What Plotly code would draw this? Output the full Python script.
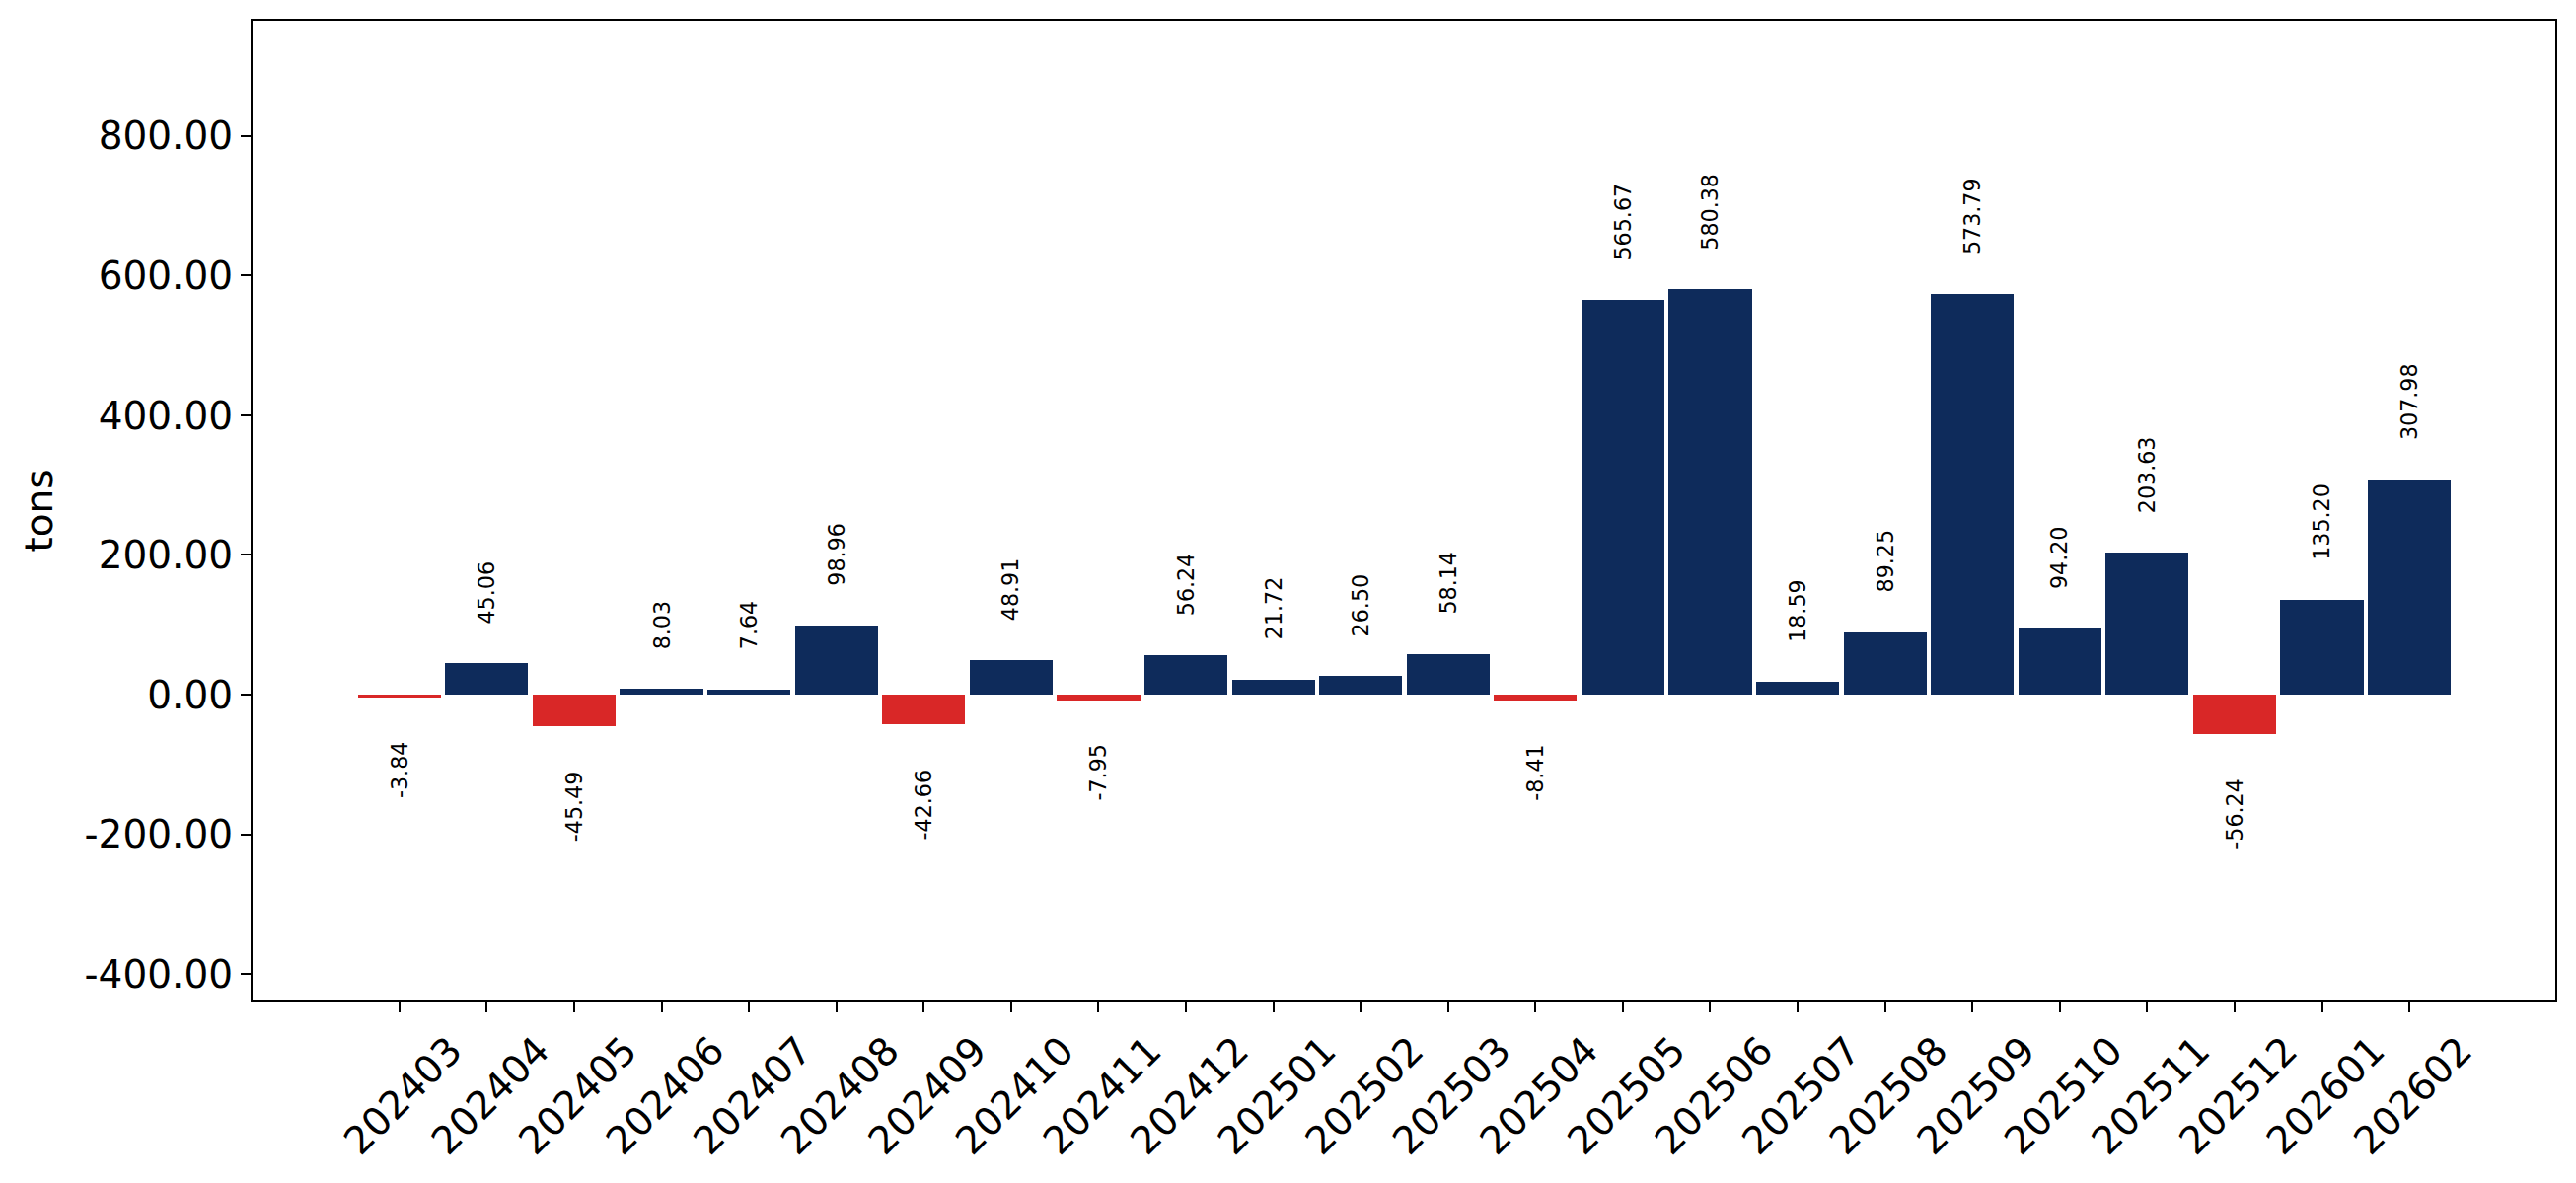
import plotly.graph_objects as go

months = ["202403", "202404", "202405", "202406", "202407", "202408", "202409", "202410",
          "202411", "202412", "202501", "202502", "202503", "202504", "202505", "202506",
          "202507", "202508", "202509", "202510", "202511", "202512", "202601", "202602"]
values = [-3.84, 45.06, -45.49, 8.03, 7.64, 98.96, -42.66, 48.91,
          -7.95, 56.24, 21.72, 26.50, 58.14, -8.41, 565.67, 580.38,
          18.59, 89.25, 573.79, 94.20, 203.63, -56.24, 135.20, 307.98]
y_ticks = [-400, -200, 0, 200, 400, 600, 800]
y_title = "tons"

NAVY = "#0e2b5b"
RED = "#d92727"
FONT = "DejaVu Sans"

colors = [NAVY if v >= 0 else RED for v in values]

fig = go.Figure()
fig.add_trace(go.Bar(
    x=list(range(len(months))), y=values,
    marker=dict(color=colors, line=dict(width=0)),
    width=0.95, showlegend=False, hoverinfo="skip",
))

for i, v in enumerate(values):
    pos = v >= 0
    fig.add_annotation(
        x=i, y=v, xref="x", yref="y",
        text=f"{v:.2f}", showarrow=False, textangle=-90,
        xanchor="center", yanchor="bottom" if pos else "top",
        yshift=38 if pos else -43,
        font=dict(family=FONT, size=22.2, color="black"),
    )

fig.update_layout(
    width=2611, height=1199,
    margin=dict(l=256, r=21, t=21, b=185, pad=0),
    paper_bgcolor="white", plot_bgcolor="white",
    font=dict(family=FONT, color="black"),
    bargap=0,
)
fig.update_xaxes(
    range=[-1.68, 24.67],
    tickmode="array", tickvals=list(range(len(months))), ticktext=months,
    tickangle=-45, tickfont=dict(family=FONT, size=39, color="black"),
    ticks="outside", ticklen=10, tickwidth=2.2, tickcolor="black",
    ticklabelshift=52, ticklabelstandoff=0,
    showline=True, linecolor="black", linewidth=2.2, mirror=True,
    showgrid=False, zeroline=False,
)
fig.update_yaxes(
    range=[-438, 965],
    tickmode="array", tickvals=y_ticks, ticktext=[f"{t:.2f}" for t in y_ticks],
    tickfont=dict(family=FONT, size=39, color="black"),
    ticks="outside", ticklen=10, tickwidth=2.2, tickcolor="black",
    showline=True, linecolor="black", linewidth=2.2, mirror=True,
    showgrid=False, zeroline=False,
    title=dict(text=y_title, font=dict(family=FONT, size=39, color="black"), standoff=20),
)

fig.write_html("out.html")
